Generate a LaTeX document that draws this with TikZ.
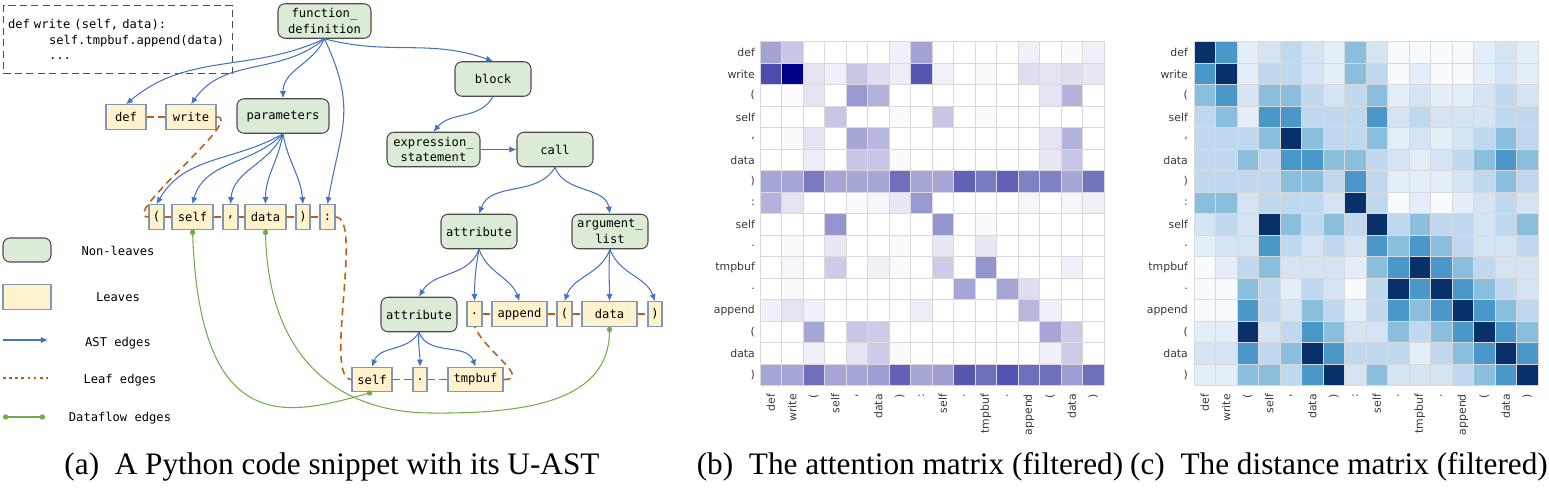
\documentclass[tikz,border=0pt]{standalone}
\usepackage{fontspec}
\setmainfont{Liberation Serif}
\setsansfont{DejaVu Sans}
\setmonofont{DejaVu Sans Mono}
\usetikzlibrary{arrows.meta}

\definecolor{nlfill}{HTML}{DCEBD5}
\definecolor{leaffill}{HTML}{FFF2CC}
\definecolor{leafline}{HTML}{8497B0}
\definecolor{astblue}{HTML}{4472C4}
\definecolor{leafedge}{HTML}{C55A11}
\definecolor{flowgreen}{HTML}{70AD47}
\definecolor{attdark}{RGB}{0,0,139}
\definecolor{gridgray}{HTML}{D9D9D9}
\definecolor{dist0}{HTML}{F7FBFF}
\definecolor{dist1}{HTML}{E3EEF9}
\definecolor{dist2}{HTML}{D4E4F3}
\definecolor{dist3}{HTML}{BFD8ED}
\definecolor{dist4}{HTML}{89BEDC}
\definecolor{dist5}{HTML}{4A98C9}
\definecolor{dist6}{HTML}{08306B}

\newcommand{\codefont}{\fontsize{6.9}{9}\selectfont\ttfamily}
\newcommand{\tickfont}{\fontsize{6.2}{7}\selectfont\sffamily}

\tikzset{
  nonleafbox/.style={draw=black!70, fill=nlfill, rounded corners=4pt, line width=0.6pt, font=\codefont, align=center, inner sep=0pt, minimum width=1.52cm, minimum height=0.69cm},
  leafbox/.style={draw=leafline, fill=leaffill, line width=0.6pt, font=\codefont, inner sep=0pt, minimum height=0.49cm},
  codebox/.style={draw=black!70, dash pattern=on 4pt off 2.5pt, line width=0.6pt, font=\codefont, align=left, text width=4.4cm, inner xsep=0.09cm},
  ast/.style={draw=astblue, line width=0.6pt, -{Latex[length=4pt,width=3.6pt]}},
  leafln/.style={draw=leafedge, line width=0.9pt, dash pattern=on 4pt off 2.8pt},
  flow/.style={draw=flowgreen, line width=0.6pt, {Circle[length=3pt]}-{Circle[length=3pt]}},
  cell/.style={draw=gridgray, line width=0.5pt},
  ticklabel/.style={font=\tickfont, text=black!78, inner sep=1pt},
  keytext/.style={font=\codefont},
  caption/.style={font=\fontsize{17.8}{20}\selectfont},
}

\begin{document}
\begin{tikzpicture}[x=0.02cm, y=-0.02cm]
\useasboundingbox (0,0) rectangle (1549,495);

% code snippet
\node[codebox, anchor=north west, minimum width=4.58cm, minimum height=1.36cm] (snippet) at (3,5)
  {def write (self, data):\\\hspace*{0.82cm}self.tmpbuf.append(data)\\\hspace*{0.82cm}...};

% non-leaves
\node[nonleafbox, minimum width=1.86cm] (funcdef) at (324.5,21) {function\_\\definition};
\node[nonleafbox, minimum width=1.84cm] (params) at (283,116) {parameters};
\node[nonleafbox] (block) at (493,79) {block};
\node[nonleafbox, minimum width=1.86cm] (exprstmt) at (433.5,149.5) {expression\_\\statement};
\node[nonleafbox] (call) at (555,149.5) {call};
\node[nonleafbox] (attr1) at (479,231.5) {attribute};
\node[nonleafbox] (arglist) at (610,231.5) {argument\_\\list};
\node[nonleafbox] (attr2) at (419,314.5) {attribute};

% leaves
\node[leafbox, minimum width=0.80cm] (def) at (126,117) {def};
\node[leafbox, minimum width=1.00cm] (write) at (191,117) {write};
\node[leafbox, minimum width=0.30cm] (lp1) at (156.5,217) {(};
\node[leafbox, minimum width=0.82cm] (self1) at (192.5,217) {self};
\node[leafbox, minimum width=0.30cm] (comma) at (230.5,217) {,};
\node[leafbox, minimum width=0.82cm] (data1) at (265.5,217) {data};
\node[leafbox, minimum width=0.28cm] (rp1) at (303,217) {)};
\node[leafbox, minimum width=0.30cm] (colon) at (327.5,217) {:};
\node[leafbox, minimum width=0.30cm] (dot2) at (474.5,314) {.};
\node[leafbox, minimum width=1.10cm] (append) at (519.5,314) {append};
\node[leafbox, minimum width=0.30cm] (lp2) at (564.5,314) {(};
\node[leafbox, minimum width=1.10cm] (data2) at (609.5,314) {data};
\node[leafbox, minimum width=0.28cm] (rp2) at (655,314) {)};
\node[leafbox, minimum width=0.80cm] (self2) at (372,379.5) {self};
\node[leafbox, minimum width=0.28cm] (dot1) at (420,379.5) {.};
\node[leafbox, minimum width=1.10cm] (tmpbuf) at (475.5,379.5) {tmpbuf};

% AST edges
\draw[ast] (funcdef.south) to[out=-155,in=40] (def.north);
\draw[ast] (funcdef.south) to[out=-140,in=55] (write.north);
\draw[ast] (funcdef.south) to[out=-115,in=90] (params.north);
\draw[ast] (funcdef.south) to[out=-65,in=80,looseness=1.2] (colon.north);
\draw[ast] (funcdef.south) to[out=-15,in=160] (block.north);
\draw[ast] (params.south) to[out=-150,in=60] (lp1.north);
\draw[ast] (params.south) to[out=-135,in=75] (self1.north);
\draw[ast] (params.south) to[out=-115,in=85] (comma.north);
\draw[ast] (params.south) to[out=-100,in=90] (data1.north);
\draw[ast] (params.south) to[out=-80,in=95] (rp1.north);
\draw[ast] (block.south) to[out=-120,in=50] (exprstmt.north);
\draw[ast] (exprstmt.east) -- (call.west);
\draw[ast] (call.south) to[out=-120,in=70] (attr1.north);
\draw[ast] (call.south) to[out=-70,in=100] (arglist.north);
\draw[ast] (attr1.south) to[out=-110,in=60] (attr2.north);
\draw[ast] (attr1.south) to[out=-100,in=90] (dot2.north);
\draw[ast] (attr1.south) to[out=-70,in=110] (append.north);
\draw[ast] (arglist.south) to[out=-110,in=70] (lp2.north);
\draw[ast] (arglist.south) to[out=-95,in=90] (data2.north);
\draw[ast] (arglist.south) to[out=-70,in=110] (rp2.north);
\draw[ast] (attr2.south) to[out=-120,in=70] (self2.north);
\draw[ast] (attr2.south) to[out=-95,in=90] (dot1.north);
\draw[ast] (attr2.south) to[out=-70,in=110] (tmpbuf.north);

% leaf edges
\draw[leafln] (def) -- (write);
\draw[leafln] (write.east) to[out=0,in=180,looseness=0.65] (lp1.west);
\draw[leafln] (lp1) -- (self1) -- (comma) -- (data1) -- (rp1) -- (colon);
\draw[leafln] (colon.east) to[out=0,in=180,looseness=0.45] (self2.west);
\draw[leafln] (self2) -- (dot1) -- (tmpbuf);
\draw[leafln] (tmpbuf.east) to[out=0,in=-65,looseness=1.2] (dot2.south);
\draw[leafln] (dot2) -- (append) -- (lp2) -- (data2) -- (rp2);

% dataflow edges
\draw[flow] (self1.south) .. controls (200,440) and (290,415) .. (self2.south);
\draw[flow] (data1.south) .. controls (268,350) and (330,412) .. (430,413) .. controls (530,414) and (609,400) .. (data2.south);

% legend
\node[nonleafbox, minimum width=0.96cm, minimum height=0.48cm] (keynl) at (27,250) {};
\node[keytext] (keynltext) at (118,251) {Non-leaves};
\node[leafbox, minimum width=0.96cm, minimum height=0.5cm] (keyleaf) at (27,297) {};
\node[keytext] (keyleaftext) at (118,297) {Leaves};
\coordinate (keyast0) at (3,340);
\coordinate (keyast1) at (48,340);
\draw[ast] (keyast0) -- (keyast1);
\node[keytext] (keyasttext) at (118,343) {AST edges};
\coordinate (keyle0) at (3,378);
\coordinate (keyle1) at (48,378);
\draw[leafln, line width=0.7pt, dash pattern=on 1.5pt off 2pt] (keyle0) -- (keyle1);
\node[keytext] (keyletext) at (120,380) {Leaf edges};
\coordinate (keydf0) at (3,417);
\coordinate (keydf1) at (45,417);
\draw[flow] (keydf0) -- (keydf1);
\node[keytext] (keydftext) at (120,418) {Dataflow edges};

% attention matrix
\foreach \vals [count=\r from 0] in {
  {36,22,0,0,0,0,6,36,0,0,0,0,6,0,2,6},
  {70,100,11,6,22,13,7,66,5,0,2,0,13,11,13,9},
  {0,1,11,0,40,30,0,0,0,0,0,0,0,11,30,0},
  {0,0,0,22,0,0,2,0,22,0,2,0,0,0,0,0},
  {0,2,11,0,35,28,0,0,0,0,0,0,0,11,30,0},
  {0,0,7,0,22,22,2,0,0,0,0,0,0,9,22,0},
  {35,35,52,35,35,35,57,35,35,62,52,62,50,50,35,55},
  {30,11,0,0,2,4,9,40,0,0,0,0,4,0,4,6},
  {0,0,0,42,0,0,0,0,42,0,2,0,0,0,0,0},
  {0,2,0,9,0,0,2,0,9,0,9,0,0,0,0,0},
  {0,4,0,20,0,6,2,0,20,0,42,0,0,0,6,0},
  {0,2,0,0,0,0,0,0,0,35,0,35,13,0,0,0},
  {6,11,6,0,0,0,0,7,0,0,0,0,28,6,0,0},
  {0,0,35,0,22,20,0,0,0,0,0,0,0,35,20,0},
  {0,0,6,0,11,20,2,0,0,0,0,0,0,6,20,0},
  {35,35,57,35,35,38,62,35,38,66,57,68,57,57,38,57}}
  \foreach \v [count=\c from 0] in \vals
    \filldraw[cell, fill=attdark!\v!white] ({760+\c*21.5},{41.7+\r*21.5}) rectangle ++(21.5,21.5);

% distance matrix
\foreach \vals [count=\r from 0] in {
  {6,5,1,2,3,2,1,4,2,0,0,0,0,1,2,1},
  {5,6,1,3,3,2,1,4,3,0,1,0,0,1,2,1},
  {4,5,2,4,4,3,2,3,4,1,2,1,1,2,3,2},
  {3,4,1,5,5,3,3,3,5,2,3,2,2,2,3,3},
  {3,3,3,4,6,4,3,3,4,1,2,1,2,3,4,3},
  {3,3,4,3,5,5,4,4,3,2,1,2,3,4,5,4},
  {3,3,3,3,4,4,3,5,3,1,1,1,2,3,4,3},
  {4,4,2,3,3,3,2,6,3,0,1,0,1,2,3,2},
  {2,3,2,6,4,3,4,3,6,3,4,3,3,2,3,4},
  {1,2,2,5,3,2,3,2,5,4,5,4,3,2,2,3},
  {0,1,3,4,2,2,2,1,4,5,6,5,4,3,2,2},
  {0,0,4,3,1,3,2,0,3,6,5,6,5,4,3,2},
  {0,0,5,3,2,4,3,1,3,5,4,5,6,5,4,3},
  {1,1,6,2,3,5,4,2,2,4,3,4,5,6,5,4},
  {2,2,5,3,4,6,5,3,3,3,1,3,4,5,6,5},
  {1,1,4,4,3,5,6,2,4,2,2,2,3,4,5,6}}
  \foreach \v [count=\c from 0] in \vals
    \filldraw[cell, fill=dist\v] ({1194+\c*21.5},{41.7+\r*21.5}) rectangle ++(21.5,21.5);

% tick labels
\foreach \tok [count=\i from 0] in {{def},{write},{(},{self},{,},{data},{)},{:},{self},{.},{tmpbuf},{.},{append},{(},{data},{)}} {
  \node[ticklabel, anchor=east] (attrow\i) at (757,{52.45+\i*21.5}) {\tok};
  \node[ticklabel, anchor=east, rotate=90] (attcol\i) at ({770.75+\i*21.5},392) {\tok};
  \node[ticklabel, anchor=east] (distrow\i) at (1190,{52.45+\i*21.5}) {\tok};
  \node[ticklabel, anchor=east, rotate=90] (distcol\i) at ({1204.75+\i*21.5},392) {\tok};
}

% captions
\node[caption] (capa) at (332,467) {(a)~~A Python code snippet with its U-AST};
\node[caption] (capb) at (910,467) {(b)~~The attention matrix (filtered)};
\node[caption] (capc) at (1339,467) {(c)~~The distance matrix (filtered)};
\end{tikzpicture}
\end{document}
